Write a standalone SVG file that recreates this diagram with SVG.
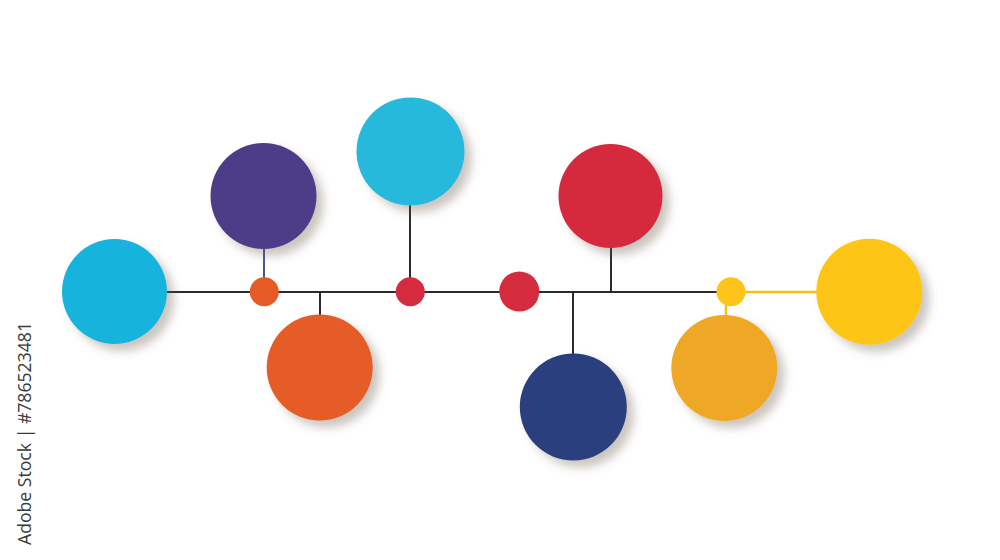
<svg xmlns="http://www.w3.org/2000/svg" width="1000" height="560" viewBox="0 0 1000 560">
<defs>
<filter id="sh" x="-30%" y="-30%" width="170%" height="170%">
<feDropShadow dx="7" dy="7" stdDeviation="5" flood-color="#6b5a48" flood-opacity="0.35"/>
</filter>
</defs>
<style>
.ln{stroke:#2b2b2b;stroke-width:2;fill:none}
.yl{stroke:#f6c21a;stroke-width:2.5;fill:none}
.big{filter:url(#sh)}
.id{font-family:"Open Sans","DejaVu Sans",sans-serif;font-size:19px;fill:#3a3a3a}
</style>
<rect width="1000" height="560" fill="#ffffff"/>
<g id="connectors">
<line class="ln" x1="166" y1="292" x2="718" y2="292"/>
<line x1="264" y1="248" x2="264" y2="280" stroke="#3d5a8a" stroke-width="2"/>
<line class="ln" x1="320" y1="292" x2="320" y2="316"/>
<line class="ln" x1="410" y1="205" x2="410" y2="280"/>
<line class="ln" x1="611" y1="247" x2="611" y2="292"/>
<line class="ln" x1="573" y1="292" x2="573" y2="354"/>
<line class="yl" x1="745" y1="292" x2="818" y2="292"/>
<line class="yl" x1="726" y1="305" x2="726" y2="317"/>
</g>
<g id="n-cyan-left"><circle class="big" cx="114.5" cy="291.5" r="52.5" fill="#19b3dc"/></g>
<g id="n-purple"><circle class="big" cx="263.5" cy="196" r="53" fill="#4e3c88"/></g>
<g id="n-orange"><circle class="big" cx="319.7" cy="367.5" r="53" fill="#e65b26"/></g>
<g id="n-cyan-top"><circle class="big" cx="410.5" cy="151.5" r="54" fill="#26b9db"/></g>
<g id="n-red"><circle class="big" cx="610.5" cy="196" r="52" fill="#d52b3e"/></g>
<g id="n-navy"><circle class="big" cx="573.3" cy="407" r="53.5" fill="#2b3f7e"/></g>
<g id="n-amber"><circle class="big" cx="724.3" cy="368" r="53" fill="#eea828"/></g>
<g id="n-yellow"><circle class="big" cx="869.3" cy="291.7" r="53" fill="#fdc519"/></g>
<g id="d-orange"><circle cx="264.3" cy="291.7" r="14.5" fill="#e65a25"/></g>
<g id="d-red1"><circle cx="410.3" cy="291.7" r="14.5" fill="#d52b3e"/></g>
<g id="d-red2"><circle cx="519.3" cy="291.5" r="20" fill="#d52b3e"/></g>
<g id="d-yellow"><circle cx="731" cy="291.7" r="14.5" fill="#fdc519"/></g>
<text class="id" transform="translate(31,545) rotate(-90)" textLength="223" lengthAdjust="spacingAndGlyphs">Adobe Stock | #786523481</text>
</svg>
